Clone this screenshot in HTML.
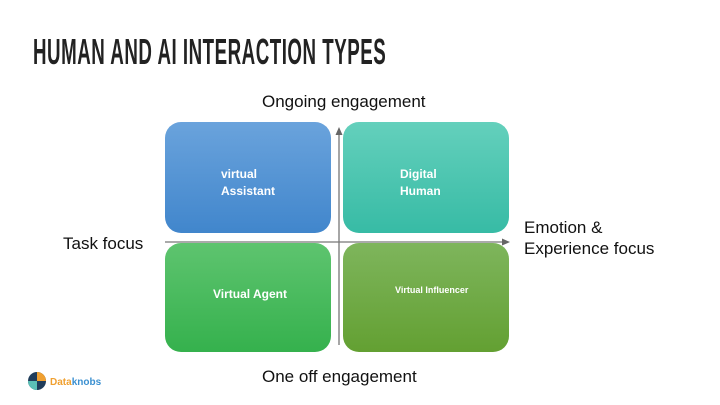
<!DOCTYPE html>
<html><head><meta charset="utf-8"><style>
body{margin:0;width:720px;height:405px;background:#fff;position:relative;overflow:hidden;font-family:"Liberation Sans",sans-serif}
.t{position:absolute;left:33px;top:31px;font-family:"Liberation Sans Narrow","Liberation Sans",sans-serif;font-size:36px;color:#222;letter-spacing:1px;transform:scaleX(0.52);transform-origin:left top;white-space:nowrap;font-weight:bold}
.b{position:absolute;border-radius:16px;color:#fff;font-size:12px;font-weight:bold}
.l{position:absolute;font-size:17px;color:#111;white-space:nowrap}
</style></head><body>
<div class="t">HUMAN AND AI INTERACTION TYPES</div>
<div class="l" style="left:262px;top:92px">Ongoing engagement</div>
<div class="l" style="left:262px;top:367px">One off engagement</div>
<div class="l" style="left:63px;top:234px">Task focus</div>
<div class="l" style="left:524px;top:217px;line-height:21px">Emotion &amp;<br>Experience focus</div>
<div class="b" style="left:165px;top:122px;width:166px;height:111px;background:linear-gradient(#6aa3dc,#4186cc)"><div style="position:absolute;left:56px;top:44px;line-height:17px">virtual<br>Assistant</div></div>
<div class="b" style="left:343px;top:122px;width:166px;height:111px;background:linear-gradient(#64d0bc,#37bba5)"><div style="position:absolute;left:57px;top:44px;line-height:17px">Digital<br>Human</div></div>
<div class="b" style="left:165px;top:243px;width:166px;height:109px;background:linear-gradient(#5ec46f,#35b14d)"><div style="position:absolute;left:48px;top:44px">Virtual Agent</div></div>
<div class="b" style="left:343px;top:243px;width:166px;height:109px;background:linear-gradient(#7eb55c,#63a032)"><div style="position:absolute;left:52px;top:42px;font-size:9px">Virtual Influencer</div></div>
<svg style="position:absolute;left:0;top:0" width="720" height="405">
<line x1="339" y1="345" x2="339" y2="133" stroke="#777" stroke-width="1.3"/>
<polygon points="339,127 335.5,135 342.5,135" fill="#666"/>
<line x1="165" y1="242" x2="504" y2="242" stroke="#777" stroke-width="1.3"/>
<polygon points="510,242 502,238.5 502,245.5" fill="#666"/>
<circle cx="37" cy="381" r="9" fill="#1f3c5a"/>
<path d="M37 381 L37 372 A9 9 0 0 1 46 381Z" fill="#f0a030"/>
<path d="M37 381 L28 381 A9 9 0 0 0 37 390Z" fill="#5bbfb6"/>
<text x="50" y="385" font-family="Liberation Sans" font-size="10" font-weight="bold" fill="#f0a030">Data<tspan fill="#3a8fd0">knobs</tspan></text>
</svg>
</body></html>
